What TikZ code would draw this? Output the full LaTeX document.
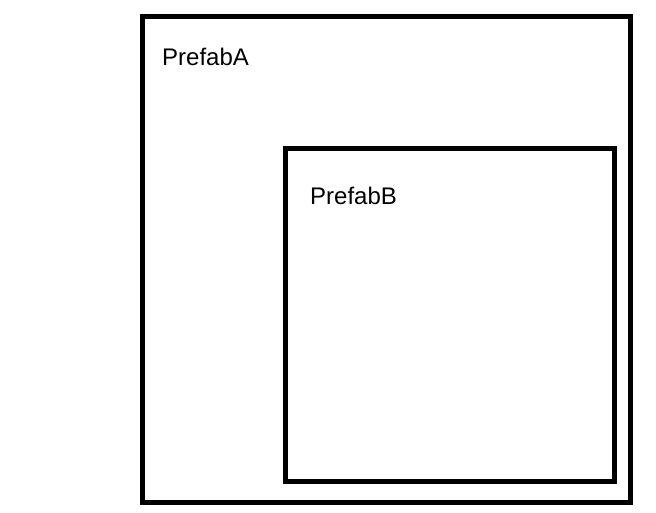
\documentclass[tikz,border=0pt]{standalone}
\usepackage{fontspec}
\setmainfont{Liberation Sans}
\begin{document}
\begin{tikzpicture}[x=1pt, y=1pt,
    prefab/.style={rectangle,draw,line width=5pt,inner sep=0pt,fill=none},
    tag/.style={inner sep=0pt,anchor=base west,font=\fontsize{24}{28}\selectfont}]
            \useasboundingbox (0,0) rectangle (656,512);
            \node[prefab, minimum width=487.5, minimum height=486] (prefabA) at (386.25,252.5) {};
            \node[prefab, minimum width=329, minimum height=332] (prefabB) at (449.5,197) {};
            \node[tag] (nameA) at (162,446.3) {PrefabA};
            \node[tag] (nameB) at (310,307) {PrefabB};
        \end{tikzpicture}
\end{document}
